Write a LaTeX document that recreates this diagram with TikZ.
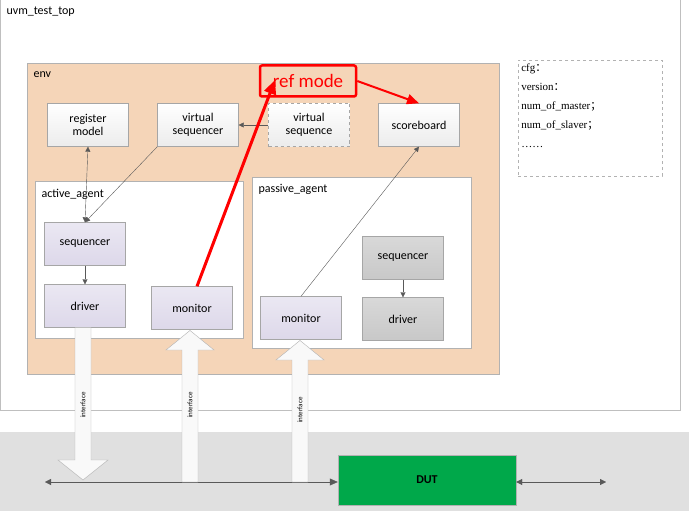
\documentclass[tikz,border=0pt]{standalone}
\usepackage{fontspec}
\setmainfont{Carlito}
\newfontfamily\serifx{Liberation Serif}
\newfontfamily\cjk{Noto Sans CJK SC}
\usetikzlibrary{arrows.meta,shapes.arrows}
\definecolor{envc}{HTML}{F5D5B8}
\definecolor{agc}{HTML}{DDD8EA}
\definecolor{grc}{HTML}{C8C8C8}
\definecolor{bg}{HTML}{E0E0E0}
\definecolor{dut}{HTML}{00A84A}
\begin{document}
\begin{tikzpicture}[x=1pt,y=-1pt,
 blk/.style={draw=gray!70,top color=white,bottom color=gray!15,minimum width=81pt,minimum height=43pt,align=center,font=\fontsize{12}{13}\selectfont,inner sep=1pt},
 ag/.style={blk,top color=agc!60,bottom color=agc},
 gr/.style={blk,top color=grc!70,bottom color=grc},
 con/.style={draw=gray!70!black,-{Triangle[length=5pt,width=5pt]}},
 ifc/.style={draw=gray!60,fill=gray!5},
 lbl/.style={font=\fontsize{12}{13}\selectfont,anchor=north west}]
\useasboundingbox (0,0) rectangle (689,511);
\fill[bg] (0,432) rectangle (689,511);
\draw[gray!50,fill=white] (0.5,-2) rectangle (680,410);
\node[lbl] (top) at (3,3) {uvm\_test\_top};
\draw[gray!60,fill=envc] (27,63) rectangle (499,374);
\node[lbl] (env) at (30,68) {env};
\draw[gray!60,fill=white] (35,181) rectangle (243,338);
\node[lbl] (aa) at (38,186) {active\_agent};
\draw[gray!60,fill=white] (252,177) rectangle (471,348);
\node[lbl] (pa) at (255,181) {passive\_agent};
\node[blk] (rm) at (88,125) {register\\model};
\node[blk] (vsr) at (198,125) {virtual\\sequencer};
\node[blk,dashed] (vsq) at (309,125) {virtual\\sequence};
\node[blk] (sb) at (419,125) {scoreboard};
\node[ag] (sq) at (85,244) {sequencer};
\node[ag] (drv) at (85,306) {driver};
\node[ag] (mon) at (192,308) {monitor};
\node[ag] (pmon) at (301,318) {monitor};
\node[gr] (psq) at (403,258) {sequencer};
\node[gr] (pdrv) at (403,319) {driver};
\node[draw=gray!60,dashed,fill=white,minimum width=144pt,minimum height=116pt] (cfg) at (590,118) {};
\node[anchor=north west,align=left,font=\serifx\fontsize{11}{19}\selectfont] (cfgt) at (cfg.north west) {cfg{\cjk：}\\version{\cjk：}\\num\_of\_master{\cjk；}\\num\_of\_slaver{\cjk；}\\……};
\draw[con,{Triangle[length=5pt,width=5pt]}-{Triangle[length=5pt,width=5pt]}] (rm.south) -- (sq.north);
\draw[con] (vsr.south west) -- (sq.north);
\draw[con] (vsq.west) -- (vsr.east);
\draw[con] (sq.south) -- (drv.north);
\draw[con] (psq.south) -- (pdrv.north);
\draw[draw=gray!70!black,-{Triangle[length=5pt,width=5pt]}] (pmon.north) -- (sb.south);
\node[draw=gray!60,fill=dut,minimum width=178pt,minimum height=50pt,font=\bfseries\fontsize{12}{13}\selectfont] (dut) at (427,480) {DUT};
\coordinate (bl) at (45,482);
\coordinate (br) at (606,482);
\draw[con,{Triangle[length=6pt,width=6pt]}-{Triangle[length=8pt,width=7pt]}] (bl) -- (dut.west|-bl);
\draw[con,{Triangle[length=6pt,width=6pt]}-{Triangle[length=6pt,width=6pt]}] (dut.east|-br) -- (br);
\coordinate (d1) at (83,480);
\coordinate (m1) at (190,482);
\coordinate (m2) at (300,482);
\draw[ifc] (75,327.5) -- (91,327.5) -- (91,460) -- (108,460) -- (d1) -- (58,460) -- (75,460) -- cycle;
\draw[ifc] (182,482) -- (198,482) -- (198,350) -- (214,350) -- (190,330.5) -- (166,350) -- (182,350) -- cycle;
\draw[ifc] (292,482) -- (308,482) -- (308,360) -- (324,360) -- (300,340.5) -- (276,360) -- (292,360) -- cycle;
\node[rotate=90,font=\fontsize{7}{8}\selectfont] (i1) at (83,405) {interface};
\node[rotate=90,font=\fontsize{7}{8}\selectfont] (i2) at (190,405) {interface};
\node[rotate=90,font=\fontsize{7}{8}\selectfont] (i3) at (300,410) {interface};
\node[draw=red,line width=2.5pt,rounded corners=2pt,text=red,font=\fontsize{19}{20}\selectfont,inner sep=2pt,minimum width=96pt,minimum height=31pt] (ref) at (308,81) {ref mode};
\draw[red,line width=3pt,-{Triangle[length=14pt,width=12pt]}] (mon.north) ++(5,0) -- (275,80);
\draw[red,line width=2pt,-{Triangle[length=12pt,width=10pt]}] (ref.east) -- (sb.north);
\end{tikzpicture}
\end{document}
